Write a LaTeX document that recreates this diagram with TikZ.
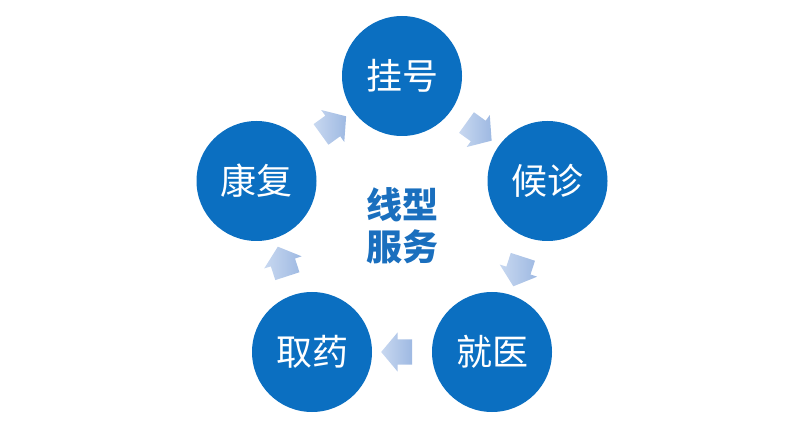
\documentclass[tikz,border=0pt]{standalone}
\usepackage{fontspec}
\newfontfamily\cjk{Noto Sans CJK SC}
\usetikzlibrary{shapes.arrows}
\definecolor{circblue}{HTML}{0B6FC1}
\definecolor{textblue}{HTML}{1A6FBE}
\definecolor{arrlight}{HTML}{C8D8F0}
\definecolor{arrdark}{HTML}{9EB9E2}
\tikzset{
  circ/.style={circle, fill=circblue, minimum size=120pt, inner sep=0pt,
    text=white, font=\cjk\fontsize{36}{40}\selectfont},
  blockarrow/.style={single arrow, draw=none, left color=arrlight, right color=arrdark,
    minimum height=31pt, inner sep=0pt, text width=0pt, text height=12.5pt, text depth=12.5pt,
    single arrow head extend=7pt, single arrow tip angle=100},
}
\begin{document}
\begin{tikzpicture}[x=1pt,y=-1pt]
\useasboundingbox (0,0) rectangle (805,427);
\node[circ] (g) at (402,76) {挂号};
\node[circ] (h) at (547.5,181) {候诊};
\node[circ] (j) at (492,352) {就医};
\node[circ] (q) at (312,352) {取药};
\node[circ] (k) at (256.5,181) {康复};
\node[text=textblue, font=\cjk\bfseries\fontsize{36}{42}\selectfont, align=center] (c) at (402,226) {线型\\服务};
\path (g.center) -- (h.center) node[midway, sloped, allow upside down, blockarrow] (a1) {};
\path (h.center) -- (j.center) node[midway, sloped, allow upside down, blockarrow] (a2) {};
\path (j.center) -- (q.center) node[midway, sloped, allow upside down, blockarrow] (a3) {};
\path (q.center) -- (k.center) node[midway, sloped, allow upside down, blockarrow] (a4) {};
\path (k.center) -- (g.center) node[midway, sloped, allow upside down, blockarrow] (a5) {};
\end{tikzpicture}
\end{document}
